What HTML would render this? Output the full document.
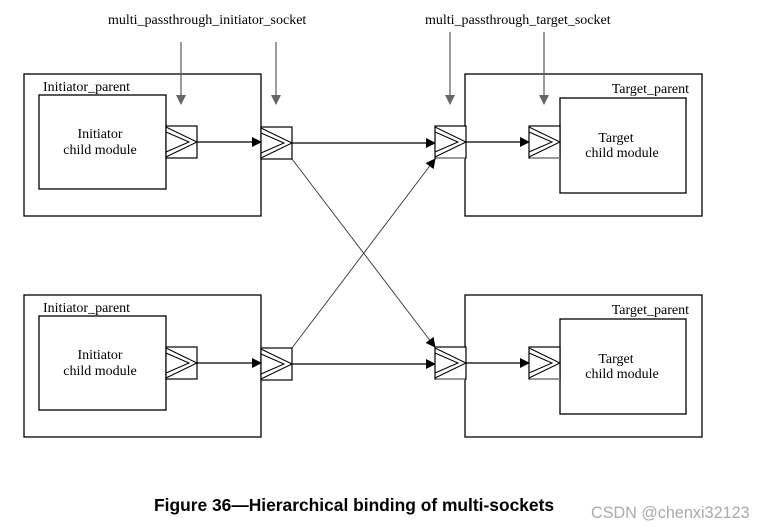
<!DOCTYPE html>
<html><head><meta charset="utf-8"><style>
html,body{margin:0;padding:0;background:#fff;width:765px;height:528px;overflow:hidden}
svg{display:block}
.s{font-family:"Liberation Serif",serif;font-size:14px;fill:#000}
</style></head><body>
<svg width="765" height="528" viewBox="0 0 765 528" xmlns="http://www.w3.org/2000/svg">
<defs>
<marker id="a" markerWidth="10" markerHeight="10" refX="9" refY="5" orient="auto" markerUnits="userSpaceOnUse"><path d="M0,0 L10,5 L0,10 z" fill="#000"/></marker>
<marker id="g" markerWidth="10" markerHeight="10" refX="5" refY="9" orient="0" markerUnits="userSpaceOnUse"><path d="M0,0 L10,0 L5,10 z" fill="#666"/></marker>
<g id="sk">
<rect x="0" y="0" width="31" height="32" fill="#fff" stroke="#000" stroke-width="1.2"/>
<polyline points="0,1 31,16 0,31" fill="none" stroke="#000" stroke-width="1"/>
<polyline points="0,6 23,16 0,26" fill="none" stroke="#000" stroke-width="1"/>
</g>
</defs>
<g fill="none" stroke="#000" stroke-width="1.3">
<rect x="24" y="74" width="237" height="142"/>
<rect x="39" y="95" width="127" height="94"/>
<rect x="465" y="74" width="237" height="142"/>
<rect x="560" y="98" width="126" height="95"/>
<rect x="24" y="295" width="237" height="142"/>
<rect x="39" y="316" width="127" height="94"/>
<rect x="465" y="295" width="237" height="142"/>
<rect x="560" y="319" width="126" height="95"/>
</g>
<g stroke="#666" stroke-width="1.3">
<line x1="181" y1="42" x2="181" y2="104" marker-end="url(#g)"/>
<line x1="276" y1="42" x2="276" y2="104" marker-end="url(#g)"/>
<line x1="450" y1="32" x2="450" y2="104" marker-end="url(#g)"/>
<line x1="544" y1="32" x2="544" y2="104" marker-end="url(#g)"/>
</g>
<g stroke="#000" stroke-width="1.2">
<line x1="197" y1="142" x2="261" y2="142" marker-end="url(#a)"/>
<line x1="292" y1="143" x2="435" y2="143" marker-end="url(#a)"/>
<line x1="466" y1="142" x2="529" y2="142" marker-end="url(#a)"/>
<line x1="197" y1="363" x2="261" y2="363" marker-end="url(#a)"/>
<line x1="292" y1="364" x2="435" y2="364" marker-end="url(#a)"/>
<line x1="466" y1="363" x2="529" y2="363" marker-end="url(#a)"/>
</g>
<g stroke="#333" stroke-width="0.9">
<line x1="292" y1="159" x2="435" y2="347" marker-end="url(#a)"/>
<line x1="292" y1="348" x2="435" y2="159" marker-end="url(#a)"/>
</g>
<use href="#sk" x="166" y="126"/>
<use href="#sk" x="261" y="127"/>
<use href="#sk" x="435" y="126"/>
<use href="#sk" x="529" y="126"/>
<use href="#sk" x="166" y="347"/>
<use href="#sk" x="261" y="348"/>
<use href="#sk" x="435" y="347"/>
<use href="#sk" x="529" y="347"/>
<g stroke="#888" stroke-width="1.5">
<line x1="436" y1="158" x2="465" y2="158"/><line x1="530" y1="158" x2="560" y2="158"/>
<line x1="436" y1="379" x2="465" y2="379"/><line x1="530" y1="379" x2="560" y2="379"/>
</g>
<text class="s" x="108" y="24">multi_passthrough_initiator_socket</text>
<text class="s" x="425" y="24">multi_passthrough_target_socket</text>
<text class="s" x="43" y="91">Initiator_parent</text>
<text class="s" x="43" y="312">Initiator_parent</text>
<text class="s" x="689" y="93" text-anchor="end">Target_parent</text>
<text class="s" x="689" y="314" text-anchor="end">Target_parent</text>
<text class="s" x="100" y="138" text-anchor="middle">Initiator</text>
<text class="s" x="100" y="154" text-anchor="middle">child module</text>
<text class="s" x="100" y="359" text-anchor="middle">Initiator</text>
<text class="s" x="100" y="375" text-anchor="middle">child module</text>
<text class="s" x="616" y="142" text-anchor="middle">Target</text>
<text class="s" x="622" y="157" text-anchor="middle">child module</text>
<text class="s" x="616" y="363" text-anchor="middle">Target</text>
<text class="s" x="622" y="378" text-anchor="middle">child module</text>
<text x="154" y="511" font-family="Liberation Sans,sans-serif" font-weight="bold" font-size="17.4" fill="#000">Figure 36—Hierarchical binding of multi-sockets</text>
<text x="591" y="518" font-family="Liberation Sans,sans-serif" font-size="16.2" fill="#aaa">CSDN @chenxi32123</text>
</svg>
</body></html>
